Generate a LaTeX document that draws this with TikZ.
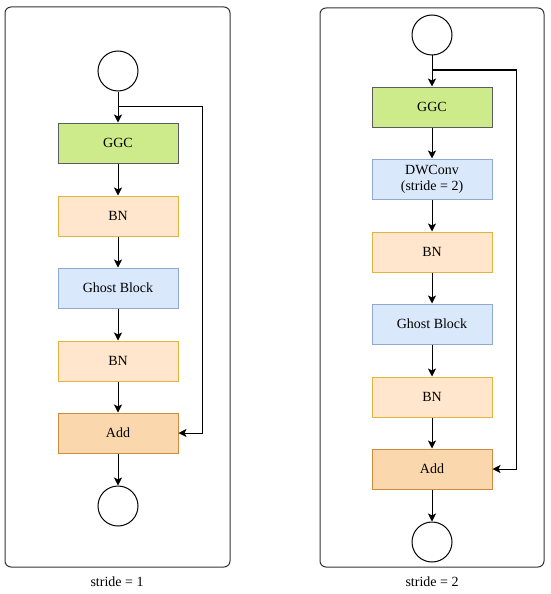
\documentclass[tikz,border=0pt]{standalone}
\usepackage{fontspec}
\setmainfont{Liberation Serif}
\usetikzlibrary{arrows.meta}

\definecolor{ggcfill}{HTML}{CDEB8B}
\definecolor{ggcline}{HTML}{5A5C5E}
\definecolor{bnfill}{HTML}{FFE6CC}
\definecolor{bnline}{HTML}{E3B340}
\definecolor{ghostfill}{HTML}{DAE8FC}
\definecolor{ghostline}{HTML}{8FA9CF}
\definecolor{addfill}{HTML}{FAD7AC}
\definecolor{addline}{HTML}{CE8A3E}
\definecolor{frameline}{HTML}{333333}

\begin{document}
\begin{tikzpicture}[x=1pt,y=-1pt,font=\fontsize{14}{16}\selectfont]
  \useasboundingbox (0,0) rectangle (550,594);
  %\tikzstyle{Box}=[rectangle,draw]

  \tikzstyle{Box}=[rectangle,draw,line width=1pt,minimum width=120pt,minimum height=40pt,inner sep=2pt,align=center]
  \tikzstyle{Port}=[circle,draw,line width=1pt,minimum size=40pt,inner sep=0pt]
  \tikzstyle{Flow}=[line width=1pt,-{Stealth[length=8pt,width=8pt,inset=2pt]}]
  \tikzstyle{Frame}=[draw=frameline,line width=1pt,rounded corners=6pt]

  % stride = 1
  \draw[Frame] (5,7) rectangle (230,567);
  \node[Port] (in1) at (118,71) {};
  \node[Box,fill=ggcfill,draw=ggcline] (ggc1) at (118,143) {GGC};
  \node[Box,fill=bnfill,draw=bnline] (bna1) at (118,216) {BN};
  \node[Box,fill=ghostfill,draw=ghostline] (ghost1) at (118,288) {Ghost Block};
  \node[Box,fill=bnfill,draw=bnline] (bnb1) at (118,361) {BN};
  \node[Box,fill=addfill,draw=addline] (add1) at (118,433) {Add};
  \node[Port] (out1) at (118,506) {};
  \coordinate (split1) at (118,106);
  \coordinate (skip1) at (202,106);

  \draw[Flow] (in1) -- (ggc1);
  \draw[Flow] (ggc1) -- (bna1);
  \draw[Flow] (bna1) -- (ghost1);
  \draw[Flow] (ghost1) -- (bnb1);
  \draw[Flow] (bnb1) -- (add1);
  \draw[Flow] (add1) -- (out1);
  \draw[Flow] (split1) -- (skip1) |- (add1.east);

  \node (cap1) at (117,582) {stride = 1};

  % stride = 2
  \draw[Frame] (320,8) rectangle (544,567);
  \node[Port] (in2) at (432,35) {};
  \node[Box,fill=ggcfill,draw=ggcline] (ggc2) at (432,107) {GGC};
  \node[Box,fill=ghostfill,draw=ghostline] (dw2) at (432,179) {DWConv\\(stride = 2)};
  \node[Box,fill=bnfill,draw=bnline] (bna2) at (432,252) {BN};
  \node[Box,fill=ghostfill,draw=ghostline] (ghost2) at (432,324) {Ghost Block};
  \node[Box,fill=bnfill,draw=bnline] (bnb2) at (432,397) {BN};
  \node[Box,fill=addfill,draw=addline] (add2) at (432,469) {Add};
  \node[Port] (out2) at (432,542) {};
  \coordinate (split2) at (432,70);
  \coordinate (skip2) at (516,70);

  \draw[Flow] (in2) -- (ggc2);
  \draw[Flow] (ggc2) -- (dw2);
  \draw[Flow] (dw2) -- (bna2);
  \draw[Flow] (bna2) -- (ghost2);
  \draw[Flow] (ghost2) -- (bnb2);
  \draw[Flow] (bnb2) -- (add2);
  \draw[Flow] (add2) -- (out2);
  \draw[Flow] (split2) -- (skip2) |- (add2.east);

  \node (cap2) at (432,582) {stride = 2};

\end{tikzpicture}
\end{document}
